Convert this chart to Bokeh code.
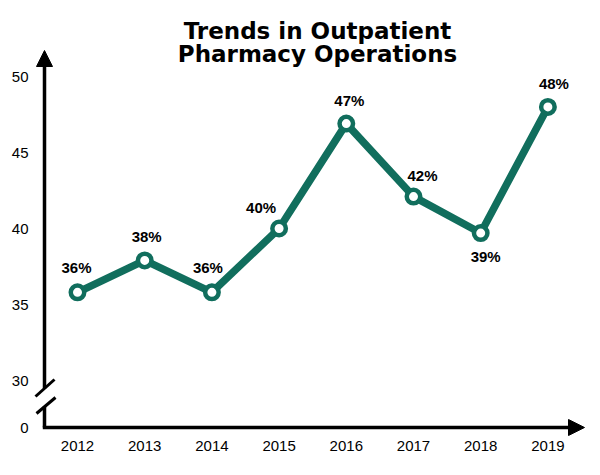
from bokeh.plotting import figure
from bokeh.models import (Range1d, LinearAxis, FixedTicker, CustomJSTickFormatter,
                          Arrow, NormalHead, Label, ColumnDataSource)
from bokeh.core.properties import value
from bokeh.embed import file_html
from bokeh.resources import INLINE

# ---- data ----
years = [2012, 2013, 2014, 2015, 2016, 2017, 2018, 2019]
share = [35.8, 37.9, 35.8, 40.0, 46.9, 42.1, 39.7, 48.0]
labels = ["36%", "38%", "36%", "40%", "47%", "42%", "39%", "48%"]
y_ticks = [30, 35, 40, 45, 50]
title_lines = ["Trends in Outpatient", "Pharmacy Operations"]

# ---- label placement (style) ----
label_dx = [-1, 2, -4, -18, 3, 9, 5, 6]
label_dy = [-25, -24, -25, -21, -23, -21, 23, -23]

W, H = 600, 475
PX_X = 67.2   # px per year
PX_Y = 15.2   # px per unit
X0 = 2012 - 77 / PX_X
Y_TOP = 30 + 380 / PX_Y


def dx(px):
    return X0 + px / PX_X


def dy(py):
    return Y_TOP - py / PX_Y


TEAL = "#116e5d"

p = figure(width=W, height=H, output_backend="svg", toolbar_location=None,
           x_range=Range1d(X0, dx(W)), y_range=Range1d(dy(H), Y_TOP),
           x_axis_type=None, y_axis_type=None, min_border=0,
           outline_line_color=None, background_fill_color="white",
           border_fill_color="white")
p.grid.visible = False

x_axis_y = dy(427)
y_axis_x = dx(44)
zero_y = x_axis_y

# axes (labels only, lines drawn separately)
yaxis = LinearAxis(fixed_location=y_axis_x,
                   ticker=FixedTicker(ticks=[zero_y] + y_ticks),
                   formatter=CustomJSTickFormatter(code="return tick < 29 ? '0' : tick.toFixed(0);"),
                   axis_line_color=None, major_tick_line_color=None,
                   minor_tick_line_color=None, major_label_standoff=10,
                   major_label_text_font="Liberation Sans",
                   major_label_text_font_size="15px",
                   major_label_text_color="black")
p.add_layout(yaxis, "left")

xaxis = LinearAxis(fixed_location=x_axis_y,
                   ticker=FixedTicker(ticks=years),
                   axis_line_color=None, major_tick_line_color=None,
                   minor_tick_line_color=None, major_label_standoff=7,
                   major_label_text_font="Liberation Sans",
                   major_label_text_font_size="15px",
                   major_label_text_color="black")
p.add_layout(xaxis, "below")

AX_W = 3.5
# x axis with arrow
p.add_layout(Arrow(x_start=dx(42.3), y_start=x_axis_y, x_end=dx(584), y_end=x_axis_y,
                   line_width=AX_W, line_color="black",
                   end=NormalHead(size=16, fill_color="black", line_color="black", line_width=1)))
# y axis upper part with arrow
p.add_layout(Arrow(x_start=y_axis_x, y_start=dy(388), x_end=y_axis_x, y_end=dy(50),
                   line_width=AX_W, line_color="black",
                   end=NormalHead(size=16, fill_color="black", line_color="black", line_width=1)))
# y axis lower part
p.segment(x0=[y_axis_x], y0=[dy(406)], x1=[y_axis_x], y1=[x_axis_y],
          line_width=AX_W, line_color="black")
# axis break slashes
p.segment(x0=[dx(35), dx(36)], y0=[dy(396), dy(413)], x1=[dx(54), dx(55)], y1=[dy(379), dy(397)],
          line_width=3, line_color="black")

src = ColumnDataSource(dict(x=years, y=share, t=labels, ox=label_dx, oy=label_dy))

p.line("x", "y", source=src, line_color=TEAL, line_width=7.5, line_join="round")
p.scatter("x", "y", source=src, marker="circle", size=13.5, line_width=4.5,
          line_color=TEAL, fill_color="white")
p.text("x", "y", text="t", source=src, x_offset="ox", y_offset="oy",
       text_align="center", text_baseline="middle",
       text_font=value("Liberation Sans"), text_font_style="bold",
       text_font_size="15px", text_color="black")

# title
for txt, py in zip(title_lines, [30, 53.5]):
    p.add_layout(Label(x=dx(317), y=dy(py), text=txt, text_align="center",
                       text_baseline="alphabetic", text_font="DejaVu Sans",
                       text_font_style="bold", text_font_size="23px",
                       text_color="black"))

open("out.html", "w").write(file_html(p, INLINE))
